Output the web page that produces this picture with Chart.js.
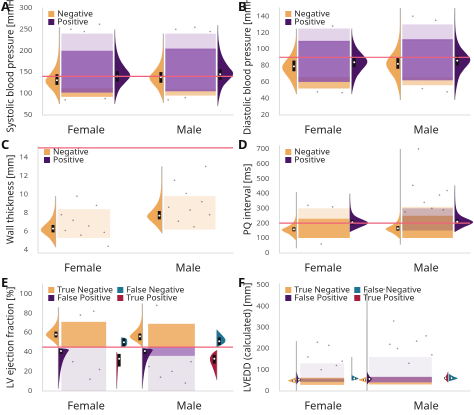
<!DOCTYPE html>
<html>
<head>
<meta charset="utf-8">
<script src="https://cdn.jsdelivr.net/npm/chart.js@4.4.1/dist/chart.umd.min.js"></script>
<style>
  body { margin: 0; background: #fff; }
  #grid { display: grid; grid-template-columns: 237px 237px; grid-template-rows: 138px 138px 139px; }
  .cell { position: relative; width: 237px; height: 138px; overflow: hidden; }
  .cell canvas { display: block; }
  .cell span { position: absolute; left: 1px; top: -3px; font: bold 13px "Noto Sans", sans-serif; color: #111; z-index: 2; }
</style>
</head>
<body>
<div id="grid">
  <div class="cell"><span>A</span><canvas id="cA" width="237" height="138"></canvas></div>
  <div class="cell"><span>B</span><canvas id="cB" width="237" height="138"></canvas></div>
  <div class="cell"><span>C</span><canvas id="cC" width="237" height="138"></canvas></div>
  <div class="cell"><span>D</span><canvas id="cD" width="237" height="138"></canvas></div>
  <div class="cell"><span>E</span><canvas id="cE" width="237" height="138"></canvas></div>
  <div class="cell"><span>F</span><canvas id="cF" width="237" height="138"></canvas></div>
</div>
<script>
const ORANGE = '#eda85a', PURPLE = '#4a1664', CLOUD = '#8e55ab', TEAL = '#1d7593', CRIMSON = '#a81c3c';
const RED = '#f0607a';

const groups = ['Female', 'Male'];
const groupX = [0.23, 0.77];
const legend2 = [['Negative', ORANGE], ['Positive', PURPLE]];
const legend4 = [['True Negative', ORANGE], ['False Negative', TEAL], ['False Positive', PURPLE], ['True Positive', CRIMSON]];

// bands: [x0, x1, lo, hi, colour, alpha]
// violins: [x, side, colour, lineLo, lineHi, widthScale, profile [[y, density]...], q1, median, q3]
const A_bands = [
  [0.10, 0.37, 200, 240, CLOUD, 0.25], [0.10, 0.37, 92, 112, ORANGE, 0.8], [0.10, 0.37, 102, 200, CLOUD, 0.85],
  [0.645, 0.91, 200, 240, CLOUD, 0.25], [0.645, 0.91, 95, 110, ORANGE, 0.6], [0.645, 0.91, 105, 205, CLOUD, 0.85]
];
const A_violins = [
  [0.09, -1, ORANGE, 75, 255, 0.08, [[75,0],[100,.25],[115,.7],[130,1],[145,.6],[170,.15],[210,.02],[255,0]], 120, 131, 145],
  [0.38, 1, PURPLE, 75, 250, 0.09, [[75,0],[105,.15],[125,.6],[142,1],[160,.6],[185,.2],[220,.03],[250,0]], 128, 140, 152],
  [0.635, -1, ORANGE, 78, 240, 0.08, [[78,0],[105,.25],[122,.7],[138,1],[152,.6],[175,.15],[210,.02],[240,0]], 125, 138, 150],
  [0.92, 1, PURPLE, 70, 260, 0.09, [[70,0],[110,.15],[130,.6],[146,1],[163,.6],[190,.2],[225,.03],[260,0]], 132, 145, 156]
];
const A_points = [[0.15,250],[0.22,245],[0.30,262],[0.12,85],[0.33,88],[0.70,250],[0.80,255],[0.88,245],[0.75,90],[0.66,85]];

const B_bands = [
  [0.10, 0.37, 108, 125, CLOUD, 0.25], [0.10, 0.37, 52, 66, ORANGE, 0.75], [0.10, 0.37, 60, 110, CLOUD, 0.85],
  [0.645, 0.91, 110, 130, CLOUD, 0.25], [0.645, 0.91, 56, 66, ORANGE, 0.5], [0.645, 0.91, 62, 112, CLOUD, 0.85]
];
const B_violins = [
  [0.09, -1, ORANGE, 45, 125, 0.08, [[45,0],[60,.3],[70,.75],[78,1],[86,.7],[95,.3],[110,.03],[125,0]], 73, 79, 86],
  [0.38, 1, PURPLE, 45, 125, 0.09, [[45,0],[62,.15],[74,.55],[84,1],[92,.7],[102,.25],[115,.03],[125,0]], 78, 84, 90],
  [0.635, -1, ORANGE, 38, 150, 0.08, [[38,0],[60,.2],[72,.7],[82,1],[90,.75],[100,.3],[118,.03],[150,0]], 76, 82, 89],
  [0.92, 1, PURPLE, 38, 150, 0.09, [[38,0],[64,.15],[76,.55],[86,1],[94,.7],[104,.25],[120,.03],[150,0]], 80, 86, 92]
];
const B_points = [[0.15,130],[0.28,128],[0.20,48],[0.70,140],[0.82,135],[0.75,52],[0.88,48],[0.33,47]];

const C_bands = [
  [0.10, 0.37, 5.3, 8.4, ORANGE, 0.22],
  [0.645, 0.91, 6.2, 9.8, ORANGE, 0.22]
];
const C_violins = [
  [0.09, -1, ORANGE, 4.3, 9.8, 0.08, [[4.3,0],[5.2,.3],[5.8,.8],[6.2,1],[6.7,.7],[7.4,.25],[8.5,.04],[9.8,0]], 5.9, 6.3, 6.7],
  [0.635, -1, ORANGE, 5.8, 13, 0.08, [[5.8,0],[6.6,.35],[7.3,.85],[7.7,1],[8.3,.6],[9.2,.2],[10.5,.03],[13,0]], 7.3, 7.7, 8.2]
];
const C_points = [[0.14,6.1],[0.18,7.2],[0.22,5.6],[0.26,6.6],[0.30,8.8],[0.34,5.9],[0.20,9.8],[0.12,7.8],[0.36,4.4],
  [0.67,8.6],[0.72,7.1],[0.76,10.1],[0.80,6.5],[0.84,9.2],[0.88,7.8],[0.70,11.5],[0.86,13],[0.78,8.3]];

const D_bands = [
  [0.10, 0.37, 230, 300, ORANGE, 0.25], [0.10, 0.37, 100, 230, ORANGE, 0.9],
  [0.645, 0.91, 250, 310, ORANGE, 0.3], [0.645, 0.91, 100, 250, ORANGE, 0.9], [0.645, 0.91, 150, 300, PURPLE, 0.25]
];
const D_violins = [
  [0.09, -1, ORANGE, 30, 410, 0.08, [[80,0],[120,.35],[145,.9],[158,1],[175,.6],[200,.2],[240,.03],[300,0]], 145, 158, 172],
  [0.37, 1, PURPLE, 140, 400, 0.1, [[140,0],[165,.4],[190,.9],[205,1],[222,.7],[250,.2],[300,.03],[400,0]], 190, 206, 222],
  [0.635, -1, ORANGE, 55, 700, 0.08, [[90,0],[125,.35],[150,.9],[165,1],[182,.6],[210,.2],[260,.03],[320,0]], 150, 165, 180],
  [0.92, 1, PURPLE, 140, 455, 0.1, [[140,0],[170,.4],[195,.9],[210,1],[228,.7],[255,.2],[310,.03],[455,0]], 195, 210, 226]
];
const D_points = [[0.15,320],[0.28,310],[0.22,60],[0.70,455],[0.76,340],[0.84,390],[0.88,420],[0.73,700],[0.80,300],[0.66,275],[0.86,290]];

const E_bands = [
  [0.10, 0.335, 45, 71, ORANGE, 0.85], [0.10, 0.335, 0, 45, PURPLE, 0.12],
  [0.555, 0.80, 45, 69, ORANGE, 0.85], [0.555, 0.80, 36, 45, CLOUD, 0.7], [0.555, 0.80, 0, 36, PURPLE, 0.12]
];
const E_violins = [
  [0.085, -1, ORANGE, 45, 86, 0.07, [[45,0],[50,.3],[55,.8],[58,1],[62,.7],[68,.25],[75,.04],[86,0]], 55, 58, 61],
  [0.085, 1, PURPLE, 2, 44, 0.06, [[2,0],[15,.1],[25,.25],[33,.45],[40,.8],[43,1],[44,0]], 38, 41, 43],
  [0.415, 1, TEAL, 45, 55, 0.03, [[45,0],[46,1],[50,1],[54,1],[55,0]], 46, 50, 54],
  [0.39, 1, CRIMSON, 2, 40, 0.01, [[2,0],[20,.6],[35,1],[40,0]], 25, 33, 38],
  [0.525, -1, ORANGE, 45, 90, 0.07, [[45,0],[49,.3],[53,.8],[56,1],[60,.7],[66,.25],[74,.04],[90,0]], 52, 56, 59],
  [0.525, 1, PURPLE, 2, 44, 0.06, [[2,0],[15,.1],[25,.25],[33,.45],[40,.8],[43,1],[44,0]], 38, 41, 43],
  [0.915, 1, TEAL, 45, 63, 0.05, [[45,0],[48,.7],[52,1],[57,.6],[63,0]], 47, 51, 55],
  [0.915, -1, CRIMSON, 11, 42, 0.04, [[11,0],[22,.4],[32,1],[38,.7],[42,0]], 28, 33, 37]
];
const E_points = [[0.16,30],[0.25,12],[0.30,22],[0.20,78],[0.27,82],[0.60,88],[0.68,20],[0.75,8],[0.62,14],[0.78,30],[0.56,25]];

const F_bands = [
  [0.11, 0.34, 28, 62, ORANGE, 0.8], [0.11, 0.34, 42, 58, PURPLE, 0.35], [0.11, 0.34, 62, 130, PURPLE, 0.08],
  [0.47, 0.80, 30, 65, ORANGE, 0.8], [0.47, 0.80, 40, 66, CLOUD, 0.75], [0.47, 0.80, 66, 160, PURPLE, 0.07]
];
const F_violins = [
  [0.09, -1, ORANGE, 0, 235, 0.05, [[35,0],[42,.6],[48,1],[55,.5],[65,0]], 44, 48, 52],
  [0.09, 1, PURPLE, 30, 90, 0.02, [[30,0],[45,.6],[52,1],[60,.5],[90,0]], 46, 52, 58],
  [0.38, 1, TEAL, 50, 160, 0.04, [[48,0],[54,.7],[58,1],[64,.5],[75,0]], 54, 58, 62],
  [0.46, -1, ORANGE, 0, 480, 0.05, [[38,0],[46,.6],[52,1],[58,.5],[68,0]], 48, 52, 56],
  [0.46, 1, PURPLE, 30, 335, 0.03, [[30,0],[48,.6],[56,1],[64,.5],[90,0]], 50, 56, 62],
  [0.885, -1, CRIMSON, 40, 90, 0.02, [[40,0],[52,.7],[60,1],[70,.5],[90,0]], 55, 60, 65],
  [0.89, 1, TEAL, 45, 80, 0.05, [[45,0],[54,.7],[60,1],[66,.5],[80,0]], 55, 60, 64]
];
const F_points = [[0.20,230],[0.26,215],[0.15,160],[0.30,120],[0.22,100],[0.33,140],[0.55,480],[0.60,330],[0.62,200],[0.72,235],[0.77,260],[0.68,130],[0.58,220],[0.80,170]];

const panels = [
  { id: 'cA', title: 'Systolic blood pressure [mmHg]', min: 50, max: 300, step: 50, line: 140, legend: legend2, bands: A_bands, violins: A_violins, points: A_points },
  { id: 'cB', title: 'Diastolic blood pressure [mmHg]', min: 20, max: 150, step: 20, line: 90, legend: legend2, bands: B_bands, violins: B_violins, points: B_points },
  { id: 'cC', title: 'Wall thickness [mm]', min: 3.7, max: 15.2, step: 2, line: 15, legend: legend2, bands: C_bands, violins: C_violins, points: C_points },
  { id: 'cD', title: 'PQ interval [ms]', min: 0, max: 720, step: 100, line: 200, legend: legend2, bands: D_bands, violins: D_violins, points: D_points },
  { id: 'cE', title: 'LV ejection fraction [%]', min: 0, max: 110, step: 20, line: 45, legend: legend4, bands: E_bands, violins: E_violins, points: E_points },
  { id: 'cF', title: 'LVEDD (calculated) [mm]', min: 0, max: 505, step: 100, line: null, legend: legend4, bands: F_bands, violins: F_violins, points: F_points }
];

function hexA(hex, a) {
  const n = parseInt(hex.slice(1), 16);
  return `rgba(${n >> 16},${(n >> 8) & 255},${n & 255},${a})`;
}

const rainPlugin = {
  id: 'rain',
  beforeDatasetsDraw(chart, args, opts) {
    const p = opts.panel, ctx = chart.ctx, xs = chart.scales.x, ys = chart.scales.y;
    const w = xs.getPixelForValue(1) - xs.getPixelForValue(0);
    ctx.save();
    p.bands.forEach(b => {
      const x0 = xs.getPixelForValue(b[0]), x1 = xs.getPixelForValue(b[1]);
      const y0 = ys.getPixelForValue(b[3]), y1 = ys.getPixelForValue(b[2]);
      ctx.fillStyle = hexA(b[4], b[5]);
      ctx.fillRect(x0, y0, x1 - x0, y1 - y0);
    });
    p.violins.forEach(v => {
      const bx = xs.getPixelForValue(v[0]), side = v[1];
      ctx.strokeStyle = '#b8b8b8'; ctx.lineWidth = 1.2;
      ctx.beginPath(); ctx.moveTo(bx, ys.getPixelForValue(v[3])); ctx.lineTo(bx, ys.getPixelForValue(v[4])); ctx.stroke();
      const pts = v[6].map(d => [bx + side * d[1] * v[5] * w, ys.getPixelForValue(d[0])]);
      ctx.fillStyle = v[2];
      ctx.beginPath(); ctx.moveTo(bx, pts[0][1]);
      ctx.lineTo(pts[0][0], pts[0][1]);
      for (let i = 1; i < pts.length - 1; i++) {
        const mx = (pts[i][0] + pts[i + 1][0]) / 2, my = (pts[i][1] + pts[i + 1][1]) / 2;
        ctx.quadraticCurveTo(pts[i][0], pts[i][1], mx, my);
      }
      const last = pts[pts.length - 1];
      ctx.lineTo(last[0], last[1]); ctx.lineTo(bx, last[1]); ctx.closePath(); ctx.fill();
      const qx = bx + side * 2.5;
      ctx.fillStyle = '#111';
      ctx.fillRect(qx - 1.5, ys.getPixelForValue(v[9]), 3, ys.getPixelForValue(v[7]) - ys.getPixelForValue(v[9]));
      ctx.fillStyle = '#fff';
      ctx.beginPath(); ctx.arc(qx, ys.getPixelForValue(v[8]), 1, 0, Math.PI * 2); ctx.fill();
    });
    ctx.restore();
  },
  afterDatasetsDraw(chart, args, opts) {
    const p = opts.panel, ctx = chart.ctx, ca = chart.chartArea, ys = chart.scales.y;
    ctx.save();
    if (p.line !== null) {
      ctx.strokeStyle = RED; ctx.lineWidth = 1.2;
      const y = ys.getPixelForValue(p.line);
      ctx.beginPath(); ctx.moveTo(ca.left, y); ctx.lineTo(ca.right, y); ctx.stroke();
    }
    ctx.font = '8.5px "Noto Sans", sans-serif';
    ctx.textBaseline = 'middle';
    p.legend.forEach((l, i) => {
      const col = p.legend.length > 2 ? i % 2 : 0, row = p.legend.length > 2 ? Math.floor(i / 2) : i;
      const x = ca.left + 6 + col * 69, y = ca.top + 6 + row * 8;
      ctx.fillStyle = l[1]; ctx.fillRect(x, y - 3, 6, 6);
      ctx.fillStyle = '#222'; ctx.fillText(l[0], x + 9, y);
    });
    ctx.restore();
  }
};

panels.forEach(p => {
  new Chart(document.getElementById(p.id), {
    type: 'scatter',
    data: { datasets: [{ data: p.points.map(d => ({ x: d[0], y: d[1] })), pointRadius: 0.8, backgroundColor: hexA(PURPLE, 0.5), borderWidth: 0 }] },
    options: {
      responsive: false, animation: false, devicePixelRatio: 2,
      layout: { padding: { top: 8, right: 2, left: 4 } },
      plugins: { legend: { display: false }, tooltip: { enabled: false }, rain: { panel: p } },
      scales: {
        x: {
          min: 0, max: 1,
          afterBuildTicks: ax => { ax.ticks = groupX.map(v => ({ value: v })); },
          ticks: { callback: (v, i) => groups[i], font: { size: 11, family: 'Noto Sans' }, color: '#222', padding: 1, maxRotation: 0, autoSkip: false },
          grid: { display: false }, border: { color: '#ddd' }
        },
        y: {
          min: p.min, max: p.max,
          afterBuildTicks: ax => {
            const t = []; const s = Math.ceil(p.min / p.step) * p.step;
            for (let v = s; v <= p.max + 1e-9; v += p.step) t.push({ value: v });
            ax.ticks = t;
          },
          ticks: { font: { size: 7.5, family: 'Noto Sans' }, color: '#555', padding: 2 },
          title: { display: true, text: p.title, font: { size: 9.5, family: 'Noto Sans' }, color: '#222', padding: 1 },
          grid: { display: false }, border: { color: '#ddd' }
        }
      }
    },
    plugins: [rainPlugin]
  });
});
</script>
</body>
</html>
